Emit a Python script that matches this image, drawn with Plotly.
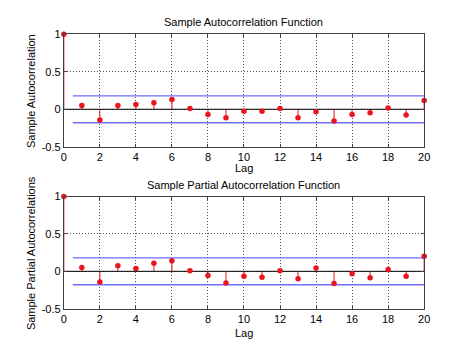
import plotly.graph_objects as go

lags = list(range(0, 21))
acf = [1.0, 0.052, -0.142, 0.052, 0.064, 0.086, 0.129, 0.009, -0.069, -0.112, -0.026,
       -0.026, 0.009, -0.112, -0.034, -0.155, -0.069, -0.047, 0.017, -0.077, 0.116]
pacf = [1.0, 0.052, -0.142, 0.073, 0.039, 0.108, 0.142, 0.009, -0.056, -0.155, -0.065,
        -0.078, 0.009, -0.099, 0.043, -0.164, -0.034, -0.086, 0.026, -0.065, 0.203]
bound = 0.18
bound_x = [0.5, 20]
base_x = [0, 20]
titles = ["Sample Autocorrelation Function", "Sample Partial Autocorrelation Function"]
ylabels = ["Sample Autocorrelation", "Sample Partial Autocorrelations"]
xlabel = "Lag"

FONT = "Liberation Sans, Arial, Helvetica, sans-serif"
RED = "#e8141e"
BLUE = "#6e6eff"

fig = go.Figure()

def add_panel(vals, xa, ya):
    sx, sy = [], []
    for x, v in zip(lags, vals):
        sx += [x, x, None]
        sy += [0, v, None]
    fig.add_trace(go.Scatter(x=sx, y=sy, mode="lines", line=dict(color=RED, width=1),
                             xaxis=xa, yaxis=ya, hoverinfo="skip"))
    fig.add_trace(go.Scatter(x=base_x, y=[0, 0], mode="lines", line=dict(color="black", width=1),
                             xaxis=xa, yaxis=ya, hoverinfo="skip"))
    fig.add_trace(go.Scatter(x=bound_x, y=[bound, bound], mode="lines", line=dict(color=BLUE, width=1.3),
                             xaxis=xa, yaxis=ya, hoverinfo="skip"))
    fig.add_trace(go.Scatter(x=bound_x, y=[-bound, -bound], mode="lines", line=dict(color=BLUE, width=1.3),
                             xaxis=xa, yaxis=ya, hoverinfo="skip"))
    fig.add_trace(go.Scatter(x=lags, y=vals, mode="markers", cliponaxis=False,
                             marker=dict(color=RED, size=5.5, line=dict(width=0)),
                             xaxis=xa, yaxis=ya))

add_panel(acf, "x", "y")
add_panel(pacf, "x2", "y2")

axis_common = dict(showline=True, mirror="ticks", linecolor="#404040", linewidth=1,
                   ticks="inside", ticklen=3, tickcolor="#404040", layer="above traces",
                   showgrid=True, gridcolor="#505050", griddash="1px,2px", gridwidth=1,
                   zeroline=False, tickfont=dict(family=FONT, size=11, color="black"))

xdom = [62 / 474, 429.3 / 474]
ydom_top = [1 - 145.7 / 354, 1 - 29.3 / 354]
ydom_bot = [1 - 313.3 / 354, 1 - 197.3 / 354]

fig.update_layout(
    width=474, height=354, margin=dict(l=0, r=0, t=0, b=0),
    paper_bgcolor="white", plot_bgcolor="white", showlegend=False,
    xaxis=dict(domain=xdom, range=[0, 20], tickvals=list(range(0, 21, 2)), anchor="y", **axis_common),
    yaxis=dict(domain=ydom_top, range=[-0.5, 1], tickvals=[-0.5, 0, 0.5, 1], ticktext=["-0.5", "0", "0.5", "1"],
               anchor="x", **axis_common),
    xaxis2=dict(domain=xdom, range=[0, 20], tickvals=list(range(0, 21, 2)), anchor="y2", **axis_common),
    yaxis2=dict(domain=ydom_bot, range=[-0.5, 1], tickvals=[-0.5, 0, 0.5, 1], ticktext=["-0.5", "0", "0.5", "1"],
                anchor="x2", **axis_common),
)

ann_font = dict(family=FONT, size=11, color="black")
xmid = (xdom[0] + xdom[1]) / 2
anns = [
    dict(text=titles[0], x=xmid, y=1 - 17 / 354),
    dict(text=titles[1], x=xmid, y=1 - 185 / 354),
    dict(text=xlabel, x=xmid, y=1 - 168 / 354),
    dict(text=xlabel, x=xmid, y=1 - 338 / 354),
    dict(text=ylabels[0], x=28 / 474, y=(ydom_top[0] + ydom_top[1]) / 2, textangle=-90),
    dict(text=ylabels[1], x=28 / 474, y=(ydom_bot[0] + ydom_bot[1]) / 2, textangle=-90),
]
for a in anns:
    fig.add_annotation(xref="paper", yref="paper", showarrow=False, font=ann_font,
                       xanchor="center", yanchor="middle", **a)

fig.write_html("out.html")
